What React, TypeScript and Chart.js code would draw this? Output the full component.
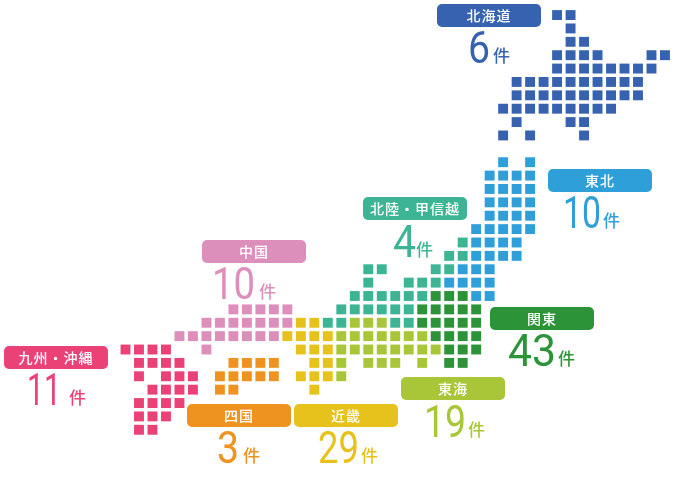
import { useEffect, useRef } from 'react';
import { Chart, registerables } from 'chart.js';

// each region: [grid row, grid columns in that row]
type Cells = [number, number[]][];

const hokkaido: Cells = [
  [0, [32, 33]],
  [1, [33]],
  [2, [33, 34]],
  [3, [32, 33, 34, 35, 39, 40]],
  [4, [32, 33, 34, 35, 36, 37, 38, 39]],
  [5, [29, 30, 31, 32, 33, 34, 35, 36, 37, 38]],
  [6, [29, 30, 31, 32, 33, 34, 35, 36, 37, 38]],
  [7, [28, 29, 30, 31, 32, 33, 34, 35, 36]],
  [8, [29, 33, 34]],
  [9, [28, 30, 34]],
];
const tohoku: Cells = [
  [11, [28, 30]],
  [12, [27, 28, 29, 30]],
  [13, [27, 28, 29, 30]],
  [14, [27, 28, 29, 30]],
  [15, [27, 28, 29, 30]],
  [16, [26, 27, 28, 29, 30]],
  [17, [26, 27, 28, 29]],
  [18, [26, 27, 28, 29]],
  [19, [25, 26, 27]],
  [20, [24, 25, 26, 27]],
  [21, [26, 27]],
];
const hokuriku: Cells = [
  [17, [25]],
  [18, [24, 25]],
  [19, [18, 19, 23, 24]],
  [20, [18, 21, 22, 23]],
  [21, [17, 18, 19, 20, 21, 22]],
  [22, [16, 17, 18, 19, 20, 21]],
  [23, [15, 16, 20, 21]],
];
const kanto: Cells = [
  [21, [23, 24, 25]],
  [22, [22, 23, 24, 25, 26]],
  [23, [22, 23, 24, 25, 26]],
  [24, [23, 24, 25, 26]],
  [25, [24, 25, 26]],
  [26, [24, 25]],
];
const tokai: Cells = [
  [23, [17, 18, 19]],
  [24, [16, 17, 18, 19, 20, 21, 22]],
  [25, [16, 17, 18, 19, 20, 21, 22, 23]],
  [26, [16, 18, 19, 20, 22]],
  [27, [16]],
];
const kinki: Cells = [
  [23, [13, 14]],
  [24, [12, 13, 14, 15]],
  [25, [13, 14, 15]],
  [26, [14, 15]],
  [27, [13, 14, 15]],
  [28, [14]],
];
const chugoku: Cells = [
  [22, [8, 9, 10, 11, 12]],
  [23, [6, 7, 8, 9, 10, 11, 12]],
  [24, [4, 5, 6, 7, 8, 9, 10, 11]],
  [25, [6]],
];
const shikoku: Cells = [
  [26, [8, 9, 10, 11]],
  [27, [7, 8, 9, 10, 11]],
  [28, [7, 8]],
];
const kyushu: Cells = [
  [25, [0, 1, 2, 3]],
  [26, [1, 2, 3, 4]],
  [27, [1, 3, 4, 5]],
  [28, [2, 3, 4, 5]],
  [29, [1, 2, 3, 4]],
  [30, [1, 2, 3]],
  [31, [1, 2]],
];

const regionCells = [hokkaido, tohoku, hokuriku, kanto, tokai, kinki, chugoku, shikoku, kyushu];
const regionNames = ['北海道', '東北', '北陸・甲信越', '関東', '東海', '近畿', '中国', '四国', '九州・沖縄'];
const regionCounts = ['6', '10', '4', '43', '19', '29', '10', '3', '11'];
const regionColors = ['#3662b0', '#2e9fd8', '#3db594', '#2c9339', '#a8c638', '#e7c21c', '#dc8fbb', '#ef9320', '#ea4277'];

// badge left/top, then number left, number width, number baseline and left of 件
const labelBoxes = [
  [437, 4, 469, 20, 63, 493],
  [548, 169, 564, 36, 228, 603],
  [363, 197, 394, 21, 257, 416],
  [490, 307, 509, 46, 366, 558],
  [401, 377, 425, 40, 437, 468],
  [294, 404, 319, 39, 463, 361],
  [202, 240, 213, 41, 299, 259],
  [187, 404, 218, 20, 463, 243],
  [4, 346, 28, 32, 405, 69],
];

const expand = (cells: Cells) =>
  cells.flatMap(([row, cols]) => cols.map((col) => ({ x: col, y: row })));

const labelsPlugin = {
  id: 'regionLabels',
  afterDraw(chart: Chart) {
    const ctx = chart.ctx;
    ctx.save();
    regionNames.forEach((name, i) => {
      const [bx, by, nx, nw, base, ux] = labelBoxes[i];
      const color = regionColors[i];

      ctx.fillStyle = color;
      ctx.beginPath();
      ctx.roundRect(bx, by, 104, 23, 5);
      ctx.fill();

      ctx.fillStyle = '#fff';
      ctx.font = '500 14px "Noto Sans CJK JP"';
      ctx.textAlign = 'center';
      ctx.textBaseline = 'middle';
      (ctx as any).letterSpacing = '1px';
      ctx.fillText(name, bx + 52, by + 12);
      (ctx as any).letterSpacing = '0px';

      ctx.fillStyle = color;
      ctx.textAlign = 'left';
      ctx.textBaseline = 'alphabetic';
      ctx.font = '45px Roboto';
      ctx.fillText(regionCounts[i], nx - 1, base, nw + 2);
      ctx.font = '500 17px "Noto Sans CJK JP"';
      ctx.fillText('件', ux, base - 1);
    });
    ctx.restore();
  },
};

export default function App() {
  const chartRef = useRef<HTMLCanvasElement>(null);

  useEffect(() => {
    Chart.register(...registerables);

    const chart = new Chart(chartRef.current!.getContext('2d')!, {
      type: 'scatter',
      data: {
        datasets: regionCells.map((cells, i) => ({
          label: regionNames[i],
          data: expand(cells),
          backgroundColor: regionColors[i],
          pointStyle: 'rect',
          pointRadius: 7,
          pointBorderWidth: 0,
        })),
      },
      options: {
        responsive: false,
        animation: false,
        layout: { padding: 0 },
        plugins: { legend: { display: false }, tooltip: { enabled: false } },
        scales: {
          // one unit is one grid step, 13.77px
          x: { display: false, min: -8.787, max: 40.595 },
          y: { display: false, reverse: true, min: -0.602, max: 34.23 },
        },
      },
      plugins: [labelsPlugin],
    });

    return () => {
      chart.destroy();
    };
  }, []);

  return (
    <div style={{ position: 'absolute', left: 0, top: 0, width: 680, height: 480, background: '#fff' }}>
      <canvas ref={chartRef} width={680} height={480} style={{ display: 'block' }} />
    </div>
  );
}
